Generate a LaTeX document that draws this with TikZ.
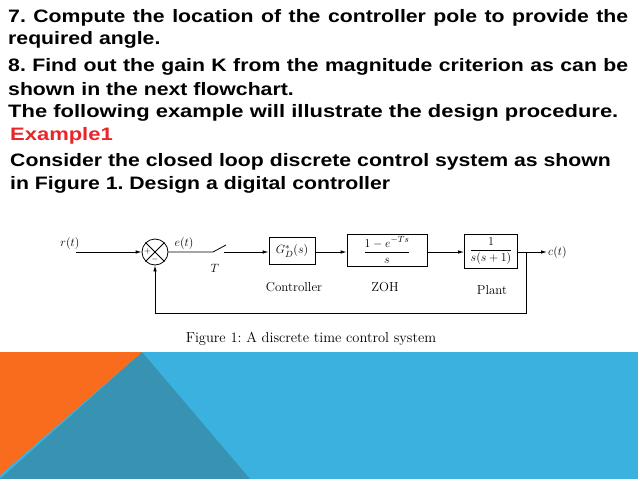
\documentclass[tikz,border=0pt]{standalone}
\usepackage{amsmath}
\usepackage{graphicx}
\usepackage{fontspec}
\newfontfamily\arial{Liberation Sans}
\usetikzlibrary{arrows.meta}
\definecolor{sky}{HTML}{3AB1DF}
\definecolor{teal}{HTML}{3893B3}
\definecolor{orng}{HTML}{F96C1E}
\definecolor{redt}{HTML}{E8262A}
\newcommand{\wide}[1]{\scalebox{1.22}[1]{#1}}
\newcommand{\wider}[1]{\scalebox{1.18}[1]{#1}}
\begin{document}
\frenchspacing
\begin{tikzpicture}[x=1pt,y=-1pt,
  ln/.style={font=\arial\bfseries\fontsize{18}{20}\selectfont,anchor=west,inner sep=0},
  blk/.style={draw,thick,inner sep=2pt,font=\fontsize{13}{14}\selectfont},
  lab/.style={font=\fontsize{13}{14}\selectfont,inner sep=0},
  arr/.style={-{Latex[length=6pt,width=3.5pt]},thick}]
\useasboundingbox (0,0) rectangle (638,479);
\fill[white] (0,0) rectangle (638,479);
\fill[sky] (0,352) rectangle (638,479);
\fill[teal] (142,352) -- (250,479) -- (0,479) -- cycle;
\fill[orng] (0,352) -- (142,352) -- (0,475) -- cycle;
% text
\node[ln] (l1) at (8,18) {\makebox[620pt][s]{\wider{7.} \wider{Compute} \wider{the} \wider{location} \wider{of} \wider{the} \wider{controller} \wider{pole} \wider{to} \wider{provide} \wider{the}}};
\node[ln] (l2) at (8,40) {\wider{required angle.}};
\node[ln] (l3) at (8,67) {\makebox[620pt][s]{\wider{8.} \wider{Find} \wider{out} \wider{the} \wider{gain} \wider{K} \wider{from} \wider{the} \wider{magnitude} \wider{criterion} \wider{as} \wider{can} \wider{be}}};
\node[ln] (l4) at (8,89) {\wider{shown in the next flowchart.}};
\node[ln] (l5) at (8,113) {\wide{The following example will illustrate the design procedure.}};
\node[ln,text=redt] (l6) at (10,136) {\wide{Example1}};
\node[ln] (l7) at (10,162) {\wider{Consider the closed loop discrete control system as shown}};
\node[ln] (l8) at (10,185) {\wider{in Figure 1. Design a digital controller}};
% diagram
\coordinate (rin) at (76,252);
\node[lab] (rl) at (70,243) {$r(t)$};
\node[draw,thick,circle,minimum size=26pt,inner sep=0] (sum) at (155,252) {};
\draw[thick] (sum.north west) -- (sum.south east) (sum.north east) -- (sum.south west);
\node[lab,font=\fontsize{8}{8}\selectfont] at (147.5,251) {$+$};
\node[lab,font=\fontsize{8}{8}\selectfont] at (155,259) {$-$};
\draw[arr] (rin) -- (sum);
\node[lab] (el) at (184,243) {$e(t)$};
\coordinate (s1) at (213,252);
\coordinate (s2) at (226,245);
\coordinate (s3) at (224,252);
\draw[thick] (sum.east) -- (s1) -- (s2);
\node[lab] (tl) at (215,268) {$T$};
\node[blk,minimum width=46pt,minimum height=27pt] (ctrl) at (292,251) {$G_D^*(s)$};
\node[lab] at (294,287) {Controller};
\node[blk,minimum width=80pt,minimum height=32pt] (zoh) at (387,250) {$\dfrac{1-e^{-Ts}}{s}$};
\node[lab] at (385,287) {ZOH};
\node[blk,minimum width=53pt,minimum height=34pt] (plant) at (491,251) {$\dfrac{1}{s(s+1)}$};
\node[lab] at (492,290) {Plant};
\draw[arr] (s3) -- (ctrl.west |- s3);
\draw[arr] (ctrl.east |- s3) -- (zoh.west |- s3);
\draw[arr] (zoh.east |- s3) -- (plant.west |- s3);
\coordinate (out) at (547,252);
\draw[arr] (plant.east |- s3) -- (out);
\node[lab,anchor=west] (cl) at (548,252) {$c(t)$};
\coordinate (fb1) at (526,252);
\coordinate (fb2) at (526,313);
\coordinate (fb3) at (155,313);
\draw[arr] (fb1) -- (fb2) -- (fb3) -- (sum.south);
\node[lab,font=\fontsize{14.5}{16}\selectfont] (cap) at (311,339) {Figure 1: A discrete time control system};
\end{tikzpicture}
\end{document}
